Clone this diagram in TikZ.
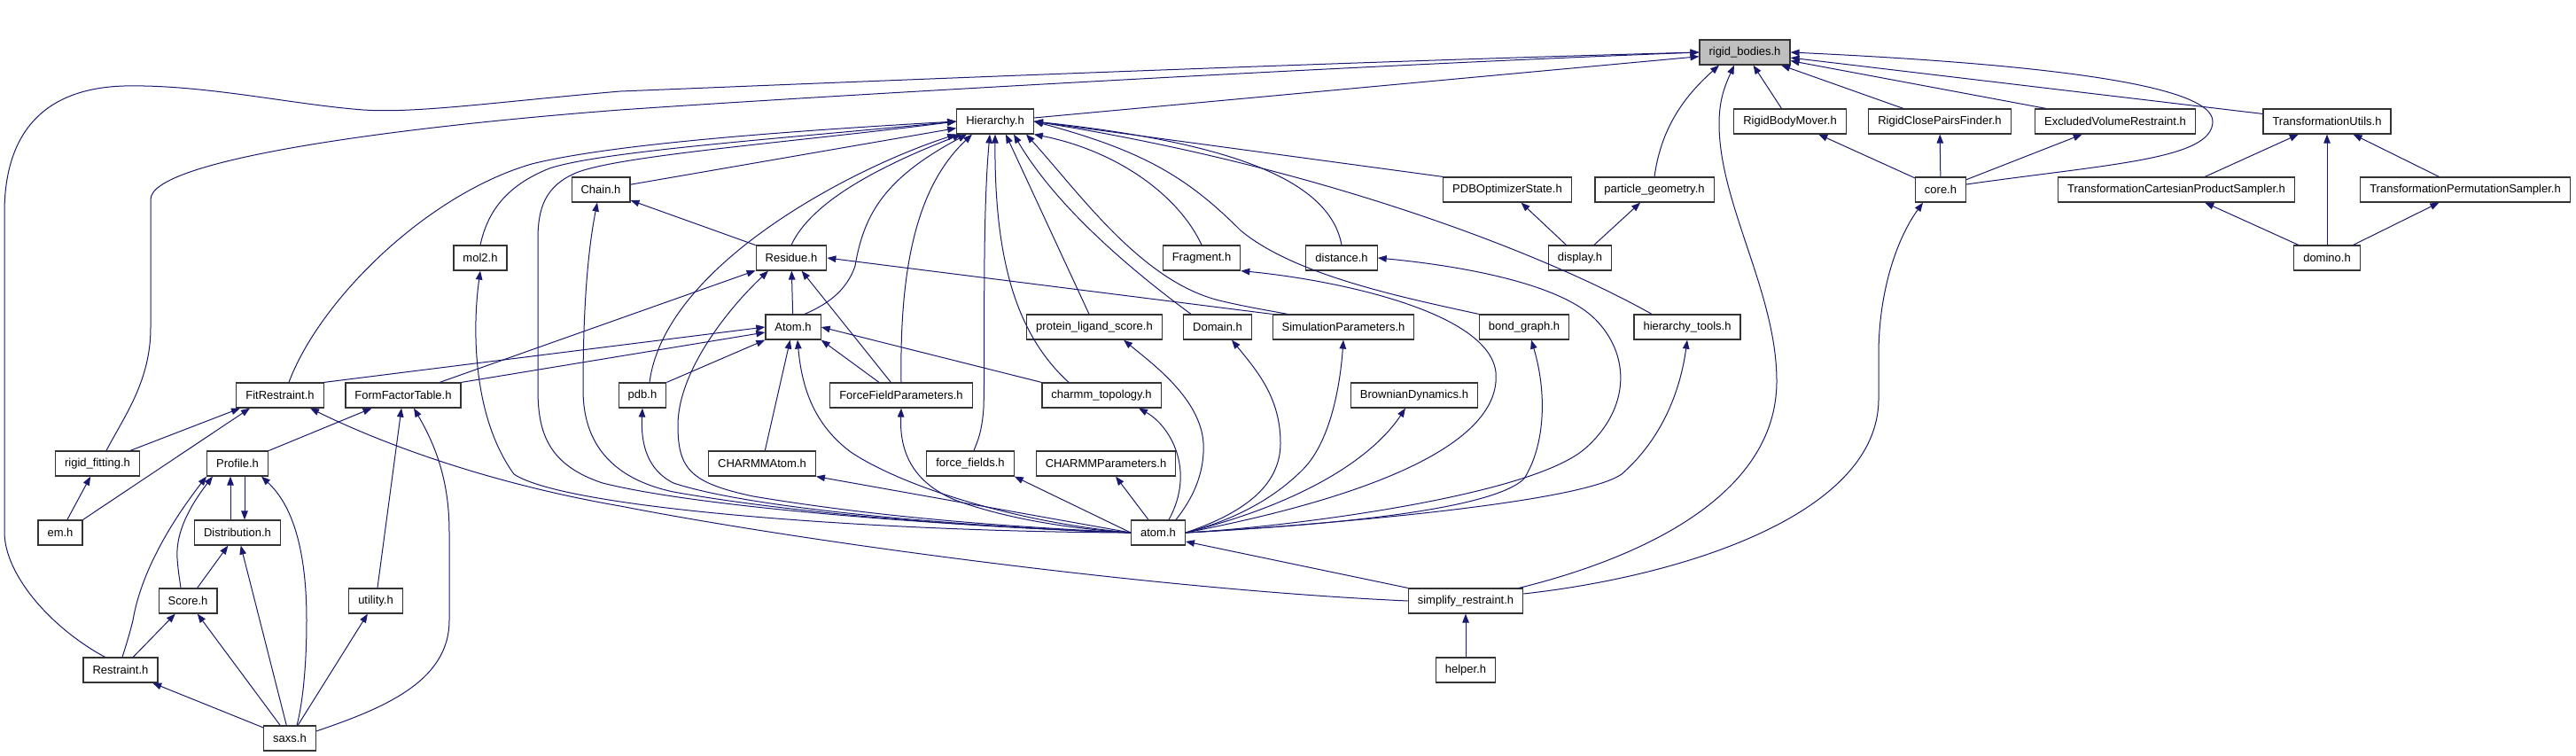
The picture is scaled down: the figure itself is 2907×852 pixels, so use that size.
\documentclass[tikz,border=0pt]{standalone}
\usepackage{fontspec}
\setmainfont{Liberation Sans}
\usetikzlibrary{arrows.meta}
\definecolor{edgeblue}{HTML}{191970}
\tikzset{
	hdr/.style={draw=black!80, line width=1.2pt, fill=white, minimum height=28pt, inner xsep=10.5pt, inner ysep=0pt, font=\fontsize{13pt}{15pt}\selectfont},
	root/.style={hdr, fill=black!25},
	inc/.style={draw=edgeblue, line width=1pt, {Triangle[length=10pt,width=7.5pt]}-}
}

\begin{document}
\begin{tikzpicture}[x=1pt, y=-1pt]
		%%%%% START %%%%%
		\useasboundingbox (0,0) rectangle (2907,852);
		
		\node[root] (rigid) at (1969,59) {rigid\_bodies.h};
		
		\node[hdr] (hier) at (1123,137) {Hierarchy.h};
		\node[hdr] (rbm) at (2020,137) {RigidBodyMover.h};
		\node[hdr] (rcpf) at (2189,137) {RigidClosePairsFinder.h};
		\node[hdr] (evr) at (2387,137) {ExcludedVolumeRestraint.h};
		\node[hdr] (tutils) at (2626,137) {TransformationUtils.h};
		
		\node[hdr] (chain) at (678,214) {Chain.h};
		\node[hdr] (pdbopt) at (1701,214) {PDBOptimizerState.h};
		\node[hdr] (pgeom) at (1867,214) {particle\_geometry.h};
		\node[hdr] (core) at (2190,214) {core.h};
		\node[hdr] (tcps) at (2456,214) {TransformationCartesianProductSampler.h};
		\node[hdr] (tps) at (2782,214) {TransformationPermutationSampler.h};
		
		\node[hdr] (mol) at (542,291) {mol2.h};
		\node[hdr] (residue) at (893,291) {Residue.h};
		\node[hdr] (frag) at (1356,291) {Fragment.h};
		\node[hdr] (dist) at (1514,291) {distance.h};
		\node[hdr] (display) at (1783,291) {display.h};
		\node[hdr] (domino) at (2626,291) {domino.h};
		
		\node[hdr] (atomcls) at (895,369) {Atom.h};
		\node[hdr] (plscore) at (1235,369) {protein\_ligand\_score.h};
		\node[hdr] (domain) at (1374,369) {Domain.h};
		\node[hdr] (simpar) at (1516,369) {SimulationParameters.h};
		\node[hdr] (bgraph) at (1720,369) {bond\_graph.h};
		\node[hdr] (htools) at (1904,369) {hierarchy\_tools.h};
		
		\node[hdr] (fitr) at (316,446) {FitRestraint.h};
		\node[hdr] (fft) at (455,446) {FormFactorTable.h};
		\node[hdr] (pdb) at (725,446) {pdb.h};
		\node[hdr] (ffp) at (1017,446) {ForceFieldParameters.h};
		\node[hdr] (ctopo) at (1243,446) {charmm\_topology.h};
		\node[hdr] (brown) at (1596,446) {BrownianDynamics.h};
		
		\node[hdr] (rfit) at (110,523) {rigid\_fitting.h};
		\node[hdr] (profile) at (268,523) {Profile.h};
		\node[hdr] (charmmatom) at (860,523) {CHARMMAtom.h};
		\node[hdr] (ffields) at (1095,523) {force\_fields.h};
		\node[hdr] (cparams) at (1248,523) {CHARMMParameters.h};
		
		\node[hdr] (em) at (68,601) {em.h};
		\node[hdr] (distrib) at (268,601) {Distribution.h};
		\node[hdr] (atomh) at (1307,601) {atom.h};
		
		\node[hdr] (score) at (212,678) {Score.h};
		\node[hdr] (utility) at (424,678) {utility.h};
		\node[hdr] (simp) at (1654,678) {simplify\_restraint.h};
		
		\node[hdr] (restr) at (136,756) {Restraint.h};
		\node[hdr] (helper) at (1654,756) {helper.h};
		
		\node[hdr] (saxs) at (327,833) {saxs.h};
		
		% rigid_bodies.h
		\draw[inc] (rigid) -- (hier);
		\draw[inc] (rigid.west) .. controls (1500,70) and (900,95) .. (700,103) .. controls (560,115) and (470,128) .. (410,124) .. controls (330,118) and (230,95) .. (140,97) .. controls (40,100) and (5,160) .. (5,240) -- (5,600) .. controls (5,650) and (60,710) .. (restr.140);
		\draw[inc] (rigid.west) .. controls (1500,75) and (900,110) .. (700,124) .. controls (450,143) and (170,180) .. (170,225) -- (170,370) .. controls (170,430) and (140,470) .. ([xshift=10pt]rfit.north);
		\draw[inc] ([xshift=-29pt]rigid.south) .. controls (1905,105) and (1875,140) .. (pgeom.north);
		\draw[inc] ([xshift=-12pt]rigid.south) .. controls (1945,100) and (1940,115) .. (1940,140) .. controls (1940,230) and (2005,330) .. (2005,430) .. controls (2005,560) and (1850,630) .. ([xshift=-5pt]simp.north east);
		\draw[inc] (rigid) -- (rbm);
		\draw[inc] (rigid) -- (rcpf);
		\draw[inc] (rigid) -- (evr);
		\draw[inc] (rigid) -- (tutils);
		\draw[inc] (rigid.east) .. controls (2300,72) and (2497,95) .. (2497,137) .. controls (2497,180) and (2380,185) .. ([yshift=6pt]core.east);
		
		% Hierarchy.h
		\draw[inc] (hier.west) .. controls (850,150) and (680,165) .. (600,185) .. controls (480,220) and (360,340) .. ([xshift=10pt]fitr.north);
		\draw[inc] (hier.west) .. controls (900,155) and (680,170) .. (620,190) .. controls (570,210) and (550,240) .. (mol.north);
		\draw[inc] (hier.west) .. controls (900,160) and (700,175) .. (650,195) .. controls (615,210) and (607,235) .. (607,270) -- (607,440) .. controls (607,490) and (620,525) .. (680,545) .. controls (800,575) and (1100,595) .. (atomh.west);
		\draw[inc] (hier) -- (chain);
		\draw[inc] (hier.south west) .. controls (960,190) and (750,300) .. ([xshift=8pt]pdb.north);
		\draw[inc] ([xshift=-38pt]hier.south) .. controls (960,200) and (910,240) .. (residue.north);
		\draw[inc] ([xshift=-32pt]hier.south) .. controls (1000,200) and (975,240) .. (965,300) .. controls (955,330) and (930,345) .. ([xshift=13pt]atomcls.north);
		\draw[inc] ([xshift=-26pt]hier.south) .. controls (1035,210) and (1015,300) .. (ffp.north);
		\draw[inc] ([xshift=-6pt]hier.south) .. controls (1108,250) and (1112,400) .. (1110,460) .. controls (1108,490) and (1102,500) .. ([xshift=4pt]ffields.north);
		\draw[inc] (hier.south) .. controls (1122,300) and (1150,380) .. ([xshift=-37pt]ctopo.north);
		\draw[inc] ([xshift=12pt]hier.south) -- ([xshift=-6pt]plscore.north);
		\draw[inc] ([xshift=21pt]hier.south) .. controls (1190,230) and (1270,300) .. ([xshift=-30pt]domain.north);
		\draw[inc] ([xshift=35pt]hier.south) .. controls (1220,220) and (1290,320) .. (1380,340) .. controls (1410,347) and (1430,350) .. ([xshift=-63pt]simpar.north);
		\draw[inc] (hier.south east) .. controls (1260,170) and (1330,220) .. (frag.north);
		\draw[inc] (hier.east) -- (pdbopt.north west);
		\draw[inc] (hier.east) .. controls (1380,160) and (1500,200) .. (dist.north);
		\draw[inc] (hier.east) .. controls (1500,190) and (1750,290) .. ([xshift=-40pt]htools.north);
		\draw[inc] (hier.east) .. controls (1290,170) and (1340,200) .. (1400,260) .. controls (1460,310) and (1580,335) .. (bgraph.north west);
		
		% Chain.h, mol2.h
		\draw[inc] (chain) -- (residue);
		\draw[inc] ([xshift=-4pt]chain.south) .. controls (660,300) and (658,380) .. (658,440) .. controls (658,500) and (690,540) .. (760,555) .. controls (900,580) and (1100,595) .. (atomh.west);
		\draw[inc] (mol.south) .. controls (533,370) and (533,470) .. (580,535) .. controls (640,575) and (1000,600) .. (atomh.west);
		
		% Residue.h
		\draw[inc] (residue) -- (atomcls);
		\draw[inc] (residue) -- (fft);
		\draw[inc] ([xshift=-26pt]residue.south) .. controls (820,350) and (765,420) .. (765,480) .. controls (765,530) and (780,545) .. (850,560) .. controls (1000,585) and (1150,595) .. (atomh.west);
		\draw[inc] (residue) -- (ffp);
		\draw[inc] (residue.east) -- (simpar.north west);
		
		% Atom.h
		\draw[inc] (atomcls.west) -- (fitr.north east);
		\draw[inc] ([yshift=-6pt]atomcls.west) -- (fft.north east);
		\draw[inc] (atomcls.south west) -- (pdb.north east);
		\draw[inc] (atomcls) -- (charmmatom);
		\draw[inc] ([xshift=5pt]atomcls.south) .. controls (905,440) and (920,480) .. (960,510) .. controls (1020,550) and (1150,590) .. (atomh.west);
		\draw[inc] (atomcls.south east) -- ([xshift=-25pt]ffp.north);
		\draw[inc] (atomcls.east) -- (ctopo.north west);
		
		% FitRestraint.h, FormFactorTable.h
		\draw[inc] ([xshift=-45pt]fitr.south) -- ([xshift=37pt]rfit.north);
		\draw[inc] ([xshift=-34pt]fitr.south) -- (em.north east);
		\draw[inc] ([xshift=34pt]fitr.south) .. controls (430,500) and (550,545) .. (700,571) .. controls (900,610) and (1300,665) .. (simp.west);
		\draw[inc] (fft) -- (profile);
		\draw[inc] (fft) -- (utility);
		\draw[inc] ([xshift=12pt]fft.south) .. controls (490,500) and (507,540) .. (507,600) -- (507,700) .. controls (507,770) and (430,800) .. ([yshift=8pt]saxs.east);
		\draw[inc] (rfit) -- (em);
		
		% Profile.h and saxs
		\draw[inc] ([xshift=-8pt]profile.south) -- ([xshift=-8pt]distrib.north);
		\draw[inc] ([xshift=8pt]distrib.north) -- ([xshift=8pt]profile.south);
		\draw[inc] ([xshift=-28pt]profile.south) .. controls (215,570) and (198,600) .. (200,630) .. controls (201,645) and (203,655) .. ([xshift=-8pt]score.north);
		\draw[inc] (profile.south west) .. controls (200,580) and (160,640) .. (150,700) .. controls (145,720) and (140,735) .. ([xshift=2pt]restr.north);
		\draw[inc] ([xshift=27pt]profile.south) .. controls (330,570) and (346,620) .. (346,700) .. controls (346,760) and (340,800) .. ([xshift=8pt]saxs.north);
		\draw[inc] (distrib) -- (score);
		\draw[inc] (distrib) -- (saxs);
		\draw[inc] (score) -- (restr);
		\draw[inc] (score) -- (saxs);
		\draw[inc] (utility) -- (saxs);
		\draw[inc] (restr) -- (saxs);
		
		% right hand side
		\draw[inc] (pgeom) -- (display);
		\draw[inc] (pdbopt) -- (display);
		\draw[inc] (rbm) -- (core);
		\draw[inc] (rcpf) -- (core);
		\draw[inc] (evr) -- (core);
		\draw[inc] ([xshift=-20pt]core.south) .. controls (2140,270) and (2120,330) .. (2120,400) -- (2120,450) .. controls (2120,580) and (1900,650) .. ([yshift=8pt]simp.east);
		\draw[inc] (tutils) -- (tcps);
		\draw[inc] (tutils) -- (domino);
		\draw[inc] (tutils) -- (tps);
		\draw[inc] (tcps) -- (domino);
		\draw[inc] (tps) -- (domino);
		\draw[inc] (simp) -- (helper);
		\draw[inc] ([yshift=-10pt]atomh.east) -- (simp.north west);
		
		% atom.h
		\draw[inc] (pdb.south) .. controls (723,500) and (730,530) .. (760,545) .. controls (850,575) and (1100,595) .. (atomh.west);
		\draw[inc] (charmmatom.south east) -- (atomh.west);
		\draw[inc] (ffp.south) .. controls (1015,510) and (1030,545) .. (1080,565) .. controls (1150,590) and (1230,598) .. (atomh.west);
		\draw[inc] (ffields.south east) -- (atomh.west);
		\draw[inc] (cparams) -- (atomh);
		\draw[inc] ([xshift=42pt]ctopo.south) .. controls (1320,480) and (1350,530) .. ([xshift=12pt]atomh.north);
		\draw[inc] ([xshift=33pt]plscore.south) .. controls (1300,410) and (1355,450) .. (1358,500) .. controls (1360,540) and (1340,570) .. ([xshift=20pt]atomh.north);
		\draw[inc] ([xshift=16pt]domain.south) .. controls (1420,420) and (1445,450) .. (1445,500) .. controls (1445,550) and (1400,580) .. (atomh.east);
		\draw[inc] (simpar.south) .. controls (1512,440) and (1500,500) .. (1470,530) .. controls (1430,570) and (1380,590) .. (atomh.east);
		\draw[inc] ([xshift=-10pt]brown.south) .. controls (1560,500) and (1500,560) .. (atomh.east);
		\draw[inc] ([xshift=8pt]bgraph.south) .. controls (1745,440) and (1745,500) .. (1720,540) .. controls (1680,580) and (1450,595) .. (atomh.east);
		\draw[inc] (dist.east) .. controls (1650,300) and (1760,320) .. (1800,360) .. controls (1840,400) and (1840,460) .. (1790,505) .. controls (1730,560) and (1450,595) .. (atomh.east);
		\draw[inc] (htools.south) .. controls (1895,450) and (1870,500) .. (1830,535) .. controls (1780,570) and (1450,595) .. (atomh.east);
		\draw[inc] (frag.south east) .. controls (1500,315) and (1680,350) .. (1688,420) .. controls (1695,500) and (1550,560) .. (atomh.east);
		
		%%%%% END %%%%%
	\end{tikzpicture}
\end{document}
